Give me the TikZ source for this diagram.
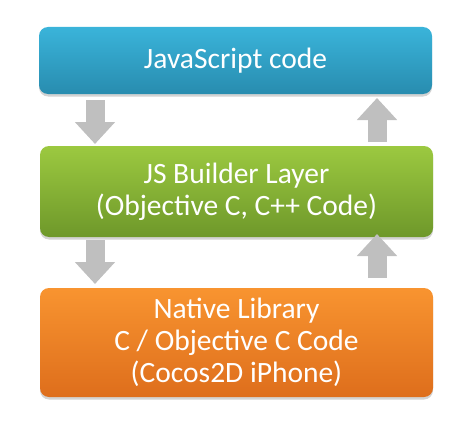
\documentclass[tikz,border=0pt]{standalone}
\usepackage{fontspec}
\setmainfont{Carlito}
\usetikzlibrary{arrows.meta,shadows}
\begin{document}
\begin{tikzpicture}[x=1pt,y=-1pt,
  layer/.style={rounded corners=9pt, minimum width=393pt, align=center,
    text=white, font=\fontsize{29.5}{32}\selectfont, inner sep=0pt,
    drop shadow={opacity=0.35, shadow xshift=0pt, shadow yshift=-2.5pt}},
  blk/.style={draw=gray!50, line width=19pt,
    -{Triangle[width=39pt,length=22pt]}, shorten >=0pt}]
\useasboundingbox (0,0) rectangle (474,428);
\node[layer, minimum height=67pt, top color={rgb,255:red,58;green,180;blue,218},
  bottom color={rgb,255:red,40;green,140;blue,175}] (js) at (235.5,60.5) {JavaScript code};
\node[layer, minimum height=91pt, top color={rgb,255:red,156;green,201;blue,64},
  bottom color={rgb,255:red,110;green,152;blue,42}] (jsb) at (236.5,191.5)
  {JS Builder Layer\\(Objective C, C++ Code)};
\node[layer, minimum height=109pt, top color={rgb,255:red,248;green,148;blue,48},
  bottom color={rgb,255:red,222;green,110;blue,28}] (nat) at (236.5,342.5)
  {Native Library\\C / Objective C Code\\(Cocos2D iPhone)};
\coordinate (d1s) at (95,100);
\coordinate (d1e) at (95,144);
\coordinate (u1s) at (377,142);
\coordinate (u1e) at (377,98);
\coordinate (d2s) at (95,240);
\coordinate (d2e) at (95,284);
\coordinate (u2s) at (377,278);
\coordinate (u2e) at (377,234);
\draw[blk] (d1s) -- (d1e);
\draw[blk] (u1s) -- (u1e);
\draw[blk] (d2s) -- (d2e);
\draw[blk] (u2s) -- (u2e);
\end{tikzpicture}
\end{document}
